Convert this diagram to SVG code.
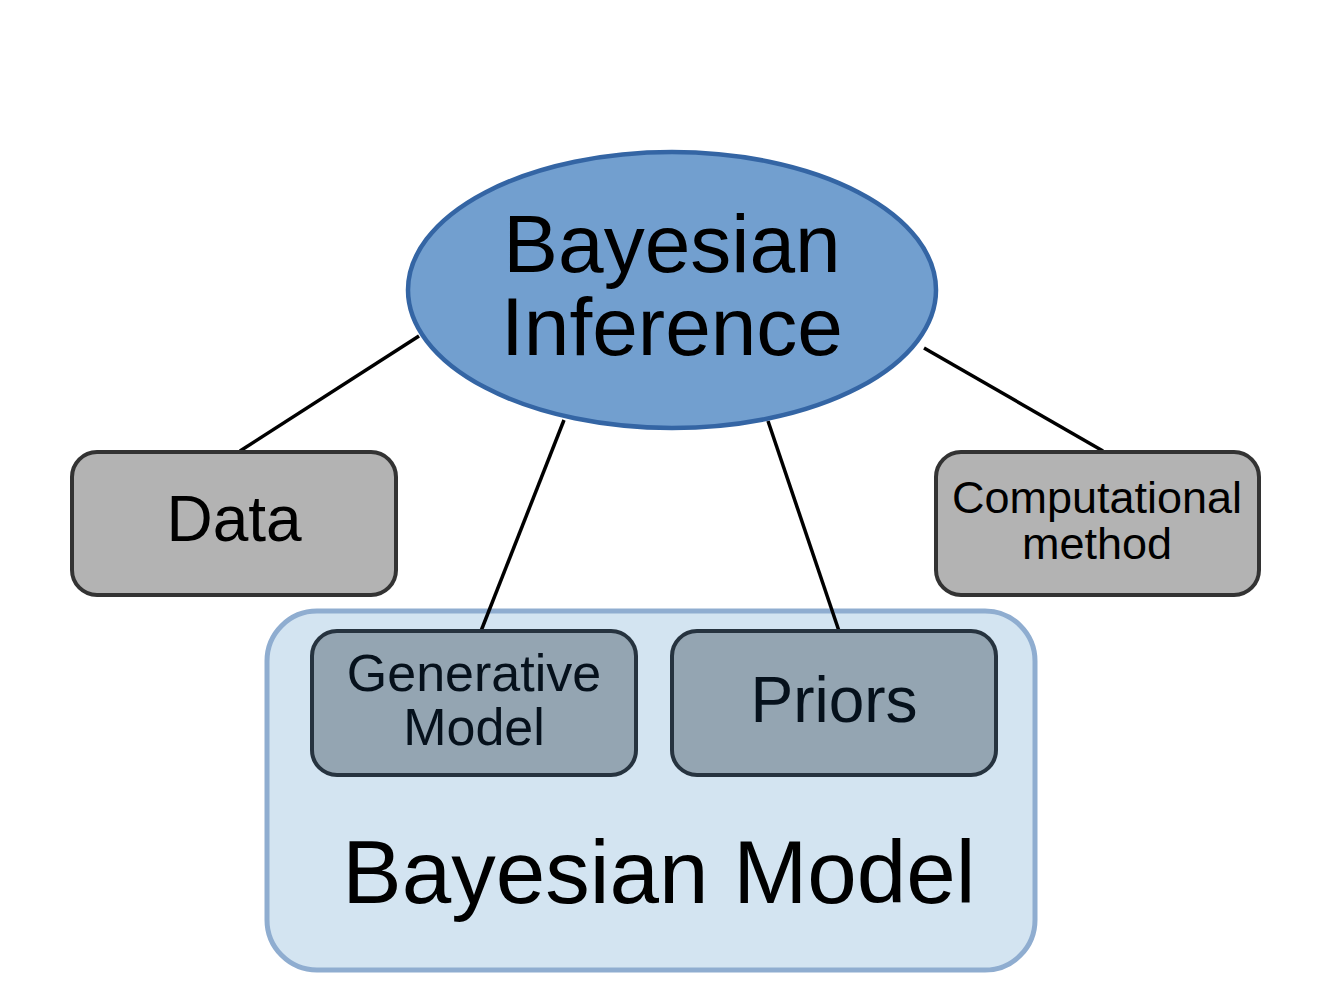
<svg xmlns="http://www.w3.org/2000/svg" width="1323" height="992" viewBox="0 0 1323 992">
<style>
text{font-family:"Liberation Sans",Arial,sans-serif;text-anchor:middle}
.edge{stroke:#000;stroke-width:3.5;fill:none}
.gray{fill:#b3b3b3;stroke:#333;stroke-width:4}
.sub{fill:#94a5b2;stroke:#26333f;stroke-width:4}
</style>
<rect width="1323" height="992" fill="#fff"/>
<g id="bayesian-model">
<rect x="267" y="611" width="768" height="359" rx="50" fill="#d3e4f1" stroke="#8fadd0" stroke-width="5"/>
<text x="659" y="903" font-size="89" fill="#000">Bayesian Model</text>
</g>
<g id="connectors">
<line class="edge" x1="419" y1="336" x2="240" y2="451"/>
<line class="edge" x1="564" y1="420" x2="481" y2="631"/>
<line class="edge" x1="768" y1="421" x2="839" y2="631"/>
<line class="edge" x1="924" y1="348" x2="1103" y2="451"/>
</g>
<g id="bayesian-inference">
<ellipse cx="672" cy="290" rx="264" ry="138" fill="#729fcf" stroke="#3465a4" stroke-width="4.5"/>
<text x="672" y="272" font-size="82" fill="#000">Bayesian</text>
<text x="672" y="355" font-size="82" fill="#000">Inference</text>
</g>
<g id="data">
<rect class="gray" x="72" y="452" width="324" height="143" rx="25"/>
<text x="234" y="541" font-size="64" fill="#000">Data</text>
</g>
<g id="computational-method">
<rect class="gray" x="936" y="452" width="323" height="143" rx="25"/>
<text x="1097" y="513" font-size="45" fill="#000">Computational</text>
<text x="1097" y="559" font-size="45" fill="#000">method</text>
</g>
<g id="generative-model">
<rect class="sub" x="312" y="631" width="324" height="144" rx="25"/>
<text x="474" y="691" font-size="52" fill="#06111c">Generative</text>
<text x="474" y="745" font-size="52" fill="#06111c">Model</text>
</g>
<g id="priors">
<rect class="sub" x="672" y="631" width="324" height="144" rx="25"/>
<text x="834" y="722" font-size="64" fill="#06111c">Priors</text>
</g>
</svg>
